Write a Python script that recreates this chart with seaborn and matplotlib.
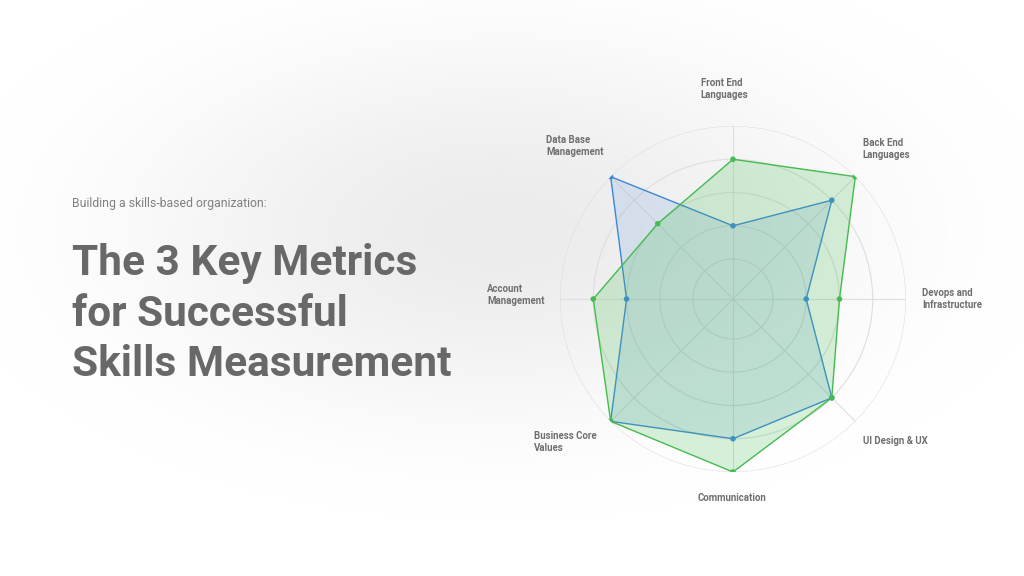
import numpy as np
import matplotlib
matplotlib.use("Agg")
import matplotlib.pyplot as plt
import seaborn as sns
import pandas as pd

# ---------------- data ----------------
categories = ["Front End\nLanguages", "Back End\nLanguages", "Devops and\nInfrastructure",
              "UI Design & UX", "Communication", "Business Core\nValues",
              "Account\nManagement", "Data Base\nManagement"]
series_green = [4, 5, 3, 4, 5, 5, 4, 3]
series_blue = [2, 4, 2, 4, 4, 5, 3, 5]
ring_values = [1, 2, 3, 4, 5]
subtitle = "Building a skills-based organization:"
title_lines = ["The 3 Key Metrics", "for Successful", "Skills Measurement"]

# ---------------- layout / style ----------------
W, H = 1024, 576
sns.set_theme(style="white")
plt.rcParams['font.family'] = ['Roboto', 'DejaVu Sans']

fig = plt.figure(figsize=(W / 100, H / 100), dpi=100)

# background: soft elliptical grey glow
bg = fig.add_axes([0, 0, 1, 1])
yy, xx = np.mgrid[0:H, 0:W]
d = np.sqrt(((xx - 500) / 560.0) ** 2 + ((yy - 230) / 290.0) ** 2)
t = np.clip(d, 0, 1)
s = t * t * (3 - 2 * t)
g = 0.925 + 0.075 * s
bg.imshow(np.dstack([g, g, g]), extent=[0, W, H, 0], aspect='auto', interpolation='bilinear')
bg.set_xlim(0, W)
bg.set_ylim(H, 0)
bg.axis('off')

# radar axes
cx, cy, R = 733, 299, 173
ax = fig.add_axes([(cx - R) / W, (H - cy - R) / H, 2 * R / W, 2 * R / H], projection='polar')
ax.set_facecolor('none')
ax.set_theta_offset(np.pi / 2)
ax.set_theta_direction(-1)
rmin = -0.2
ax.set_ylim(rmin, 5)

n = len(categories)
angles = np.linspace(0, 2 * np.pi, n, endpoint=False)
ax.set_xticks(angles)
ax.set_xticklabels([])
ax.set_yticks(ring_values)
ax.set_yticklabels([])
ax.grid(True, color='#dedede', linewidth=0.8)
ax.spines['polar'].set_visible(False)

blue = '#3d87d8'
green = '#45bb50'

def closed(v):
    return np.concatenate([v, v[:1]])

ang_c = closed(angles)
z = 2
for vals, col, alpha in [(series_blue, blue, 0.15), (series_green, green, 0.21)]:
    v = closed(np.array(vals, dtype=float))
    ax.plot(ang_c, v, color=col, linewidth=1.0, zorder=z)
    df = pd.DataFrame({'theta': angles, 'r': vals})
    sns.scatterplot(data=df, x='theta', y='r', ax=ax, color=col, s=16,
                    edgecolor='none', zorder=z + 0.1, legend=False)
    ax.fill(ang_c, v, color=col, alpha=alpha, linewidth=0, zorder=z + 0.2)
    z += 1
ax.set_xlabel('')
ax.set_ylabel('')

# category labels (pixel positions of left edge / first line centre)
label_pos = [(700.7, 81.7), (862.7, 142), (922.3, 292), (862.7, 440.3),
             (697.7, 497.3), (534, 435), (487, 288), (546, 138.7)]
lab_color = '#6f6f6f'
for lab, (px, py) in zip(categories, label_pos):
    for i, line in enumerate(lab.split('\n')):
        fig.text(px / W, 1 - (py + i * 12) / H, line, ha='left', va='center_baseline',
                 fontsize=6.9, fontweight='bold', color=lab_color)

# left texts
fig.text(72 / W, 1 - 207 / H, subtitle, ha='left', va='baseline',
         fontsize=8.8, color='#808080')
for i, line in enumerate(title_lines):
    fig.text(72 / W, 1 - (275 + i * 50.5) / H, line, ha='left', va='baseline',
             fontsize=30.5, fontweight='bold', color='#686868')

fig.savefig('out.png', dpi=100)
